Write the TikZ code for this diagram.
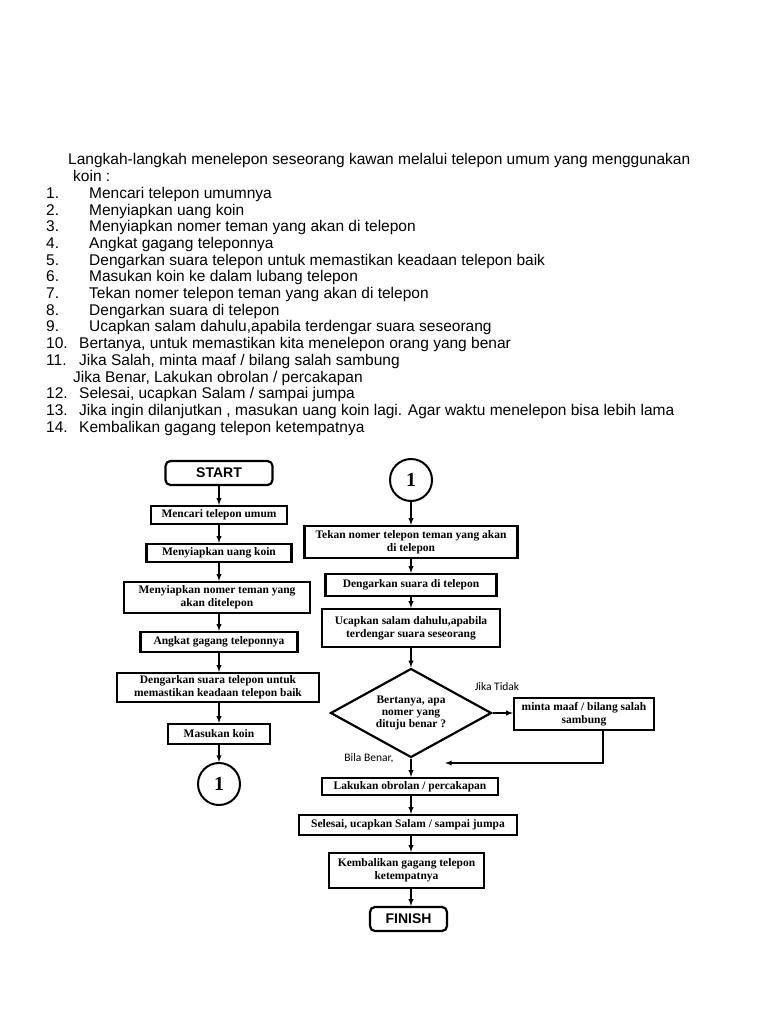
\documentclass[tikz,border=0pt]{standalone}
\usepackage{fontspec}
\setmainfont{Liberation Serif}
\newfontfamily\arial{Liberation Sans}
\newfontfamily\calibri{Carlito}
\usetikzlibrary{shapes.geometric}

\newcommand{\nomor}[2][43pt]{\makebox[#1][l]{#2}}

\begin{document}
\begin{tikzpicture}[x=1pt,y=-1pt,
  txt/.style={anchor=base west,inner sep=0pt,font=\arial\fontsize{15.5}{17}\selectfont},
  box/.style={draw,line width=2.2pt,inner sep=1pt,align=center,
    font=\bfseries\fontsize{11.5}{13.3}\selectfont},
  term/.style={box,rounded corners=5pt,font=\arial\bfseries\fontsize{14}{16}\selectfont},
  conn/.style={draw,circle,line width=2pt,inner sep=0pt,minimum size=42pt,
    font=\bfseries\fontsize{20}{22}\selectfont},
  dec/.style={draw,diamond,aspect=1.8,line width=2.2pt,inner sep=0pt,
    minimum width=161pt,minimum height=89pt,align=center,
    font=\bfseries\fontsize{11.5}{11.6}\selectfont},
  lbl/.style={inner sep=0pt,font=\calibri\fontsize{11.5}{13}\selectfont},
  arr/.style={->,>=latex,line width=1.3pt}]

\useasboundingbox (0,0) rectangle (768,1024);

% langkah-langkah
\node[txt] (judul) at (68,165) {Langkah-langkah menelepon seseorang kawan melalui telepon umum yang menggunakan};
\node[txt] (judul2) at (73,181.7) {koin :};
\node[txt] (l1) at (46,198.4) {\nomor{1.}Mencari telepon umumnya};
\node[txt] (l2) at (46,215.1) {\nomor{2.}Menyiapkan uang koin};
\node[txt] (l3) at (46,231.8) {\nomor{3.}Menyiapkan nomer teman yang akan di telepon};
\node[txt] (l4) at (46,248.5) {\nomor{4.}Angkat gagang teleponnya};
\node[txt] (l5) at (46,265.1) {\nomor{5.}Dengarkan suara telepon untuk memastikan keadaan telepon baik};
\node[txt] (l6) at (46,281.8) {\nomor{6.}Masukan koin ke dalam lubang telepon};
\node[txt] (l7) at (46,298.5) {\nomor{7.}Tekan nomer telepon teman yang akan di telepon};
\node[txt] (l8) at (46,315.2) {\nomor{8.}Dengarkan suara di telepon};
\node[txt] (l9) at (46,331.9) {\nomor{9.}Ucapkan salam dahulu,apabila terdengar suara seseorang};
\node[txt] (l10) at (46,348.6) {\nomor[33pt]{10.}Bertanya, untuk memastikan kita menelepon orang yang benar};
\node[txt] (l11) at (46,365.3) {\nomor[33pt]{11.}Jika Salah, minta maaf / bilang salah sambung};
\node[txt] (l11b) at (73,382) {Jika Benar, Lakukan obrolan / percakapan};
\node[txt] (l12) at (46,398.7) {\nomor[33pt]{12.}Selesai, ucapkan Salam / sampai jumpa};
\node[txt] (l13) at (46,415.4) {\nomor[33pt]{13.}Jika ingin dilanjutkan , masukan uang koin lagi. Agar waktu menelepon bisa lebih lama};
\node[txt] (l14) at (46,432) {\nomor[33pt]{14.}Kembalikan gagang telepon ketempatnya};

% kolom kiri
\node[term,minimum width=107pt,minimum height=24pt] (start) at (219,473) {START};
\node[box,minimum width=136pt,minimum height=18pt] (cari) at (219,515) {Mencari telepon umum};
\node[box,minimum width=145pt,minimum height=18pt] (uang) at (219,553) {Menyiapkan uang koin};
\node[box,minimum width=186pt,minimum height=31pt] (nomer) at (217,597.5) {Menyiapkan nomer teman yang\\akan ditelepon};
\node[box,minimum width=157pt,minimum height=20pt] (angkat) at (219,642) {Angkat gagang teleponnya};
\node[box,minimum width=202pt,minimum height=29pt] (dengar) at (218,687.5) {Dengarkan suara telepon untuk\\memastikan keadaan telepon baik};
\node[box,minimum width=102pt,minimum height=20pt] (koin) at (219,734) {Masukan koin};
\node[conn] (satu) at (219,784) {1};

\draw[arr] (start.south) -- (start.south |- cari.north);
\draw[arr] (cari.south) -- (cari.south |- uang.north);
\draw[arr] (uang.south) -- (uang.south |- nomer.north);
\draw[arr] (nomer.south -| uang.south) -- (uang.south |- angkat.north);
\draw[arr] (angkat.south) -- (angkat.south |- dengar.north);
\draw[arr] (dengar.south -| angkat.south) -- (angkat.south |- koin.north);
\draw[arr] (koin.south) -- (satu.north);

% kolom kanan
\node[conn] (satu2) at (411,480) {1};
\node[box,minimum width=213pt,minimum height=32pt] (tekan) at (411,542) {Tekan nomer telepon teman yang akan\\di telepon};
\node[box,minimum width=171pt,minimum height=22pt] (suara) at (411,585) {Dengarkan suara di telepon};
\node[box,minimum width=178pt,minimum height=38pt] (salam) at (411,628) {Ucapkan salam dahulu,apabila\\terdengar suara seseorang};
\node[dec] (tanya) at (411,713) {Bertanya, apa\\nomer yang\\dituju benar ?};
\node[box,minimum width=140pt,minimum height=32pt] (maaf) at (584,714) {minta maaf / bilang salah\\sambung};
\node[box,minimum width=176pt,minimum height=17pt] (obrol) at (410,786.5) {Lakukan obrolan / percakapan};
\node[box,minimum width=218pt,minimum height=20pt] (selesai) at (408,825) {Selesai, ucapkan Salam / sampai jumpa};
\node[box,minimum width=155pt,minimum height=35pt] (kembali) at (406.5,870.5) {Kembalikan gagang telepon\\ketempatnya};
\node[term,minimum width=77pt,minimum height=24pt] (finish) at (408.5,919) {FINISH};
\node[lbl] (tidak) at (497,687) {Jika Tidak};
\node[lbl] (benar) at (369,758) {Bila Benar,};
\coordinate (balik) at (445,763);

\draw[arr] (satu2.south) -- (satu2.south |- tekan.north);
\draw[arr] (tekan.south) -- (tekan.south |- suara.north);
\draw[arr] (suara.south) -- (suara.south |- salam.north);
\draw[arr] (salam.south) -- (tanya.north);
\draw[arr] (tanya.east) -- (tanya.east -| maaf.west);
\draw[arr] ([xshift=19pt]maaf.south) |- (balik);
\draw[arr] (tanya.south) -- (tanya.south |- obrol.north);
\draw[arr] (tanya.south |- obrol.south) -- (tanya.south |- selesai.north);
\draw[arr] (tanya.south |- selesai.south) -- (tanya.south |- kembali.north);
\draw[arr] (tanya.south |- kembali.south) -- (tanya.south |- finish.north);

\end{tikzpicture}
\end{document}
